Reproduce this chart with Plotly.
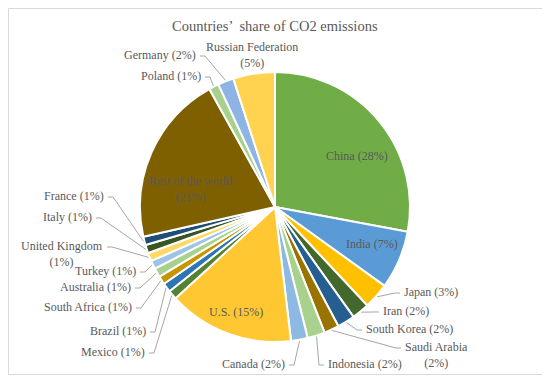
import math
import plotly.graph_objects as go

# ---------------- data ----------------
countries = ["China", "India", "Japan", "Iran", "South Korea", "Saudi Arabia",
             "Indonesia", "Canada", "U.S.", "Mexico", "Brazil", "South Africa",
             "Australia", "Turkey", "United Kingdom", "Italy", "France",
             "Rest of the world", "Poland", "Germany", "Russian Federation"]
shares = [28.0, 7.0, 3.1, 2.1, 2.1, 1.8, 2.1, 2.0, 15.1, 1.1, 1.1, 1.0,
          1.1, 1.0, 1.0, 1.0, 1.0, 20.5, 1.2, 1.9, 5.0]
share_labels = ["28%", "7%", "3%", "2%", "2%", "2%", "2%", "2%", "15%", "1%",
                "1%", "1%", "1%", "1%", "1%", "1%", "1%", "21%", "1%", "2%", "5%"]
colors = ["#70AD47", "#5B9BD5", "#FFC000", "#43682B", "#255E91", "#997300",
          "#A9D18E", "#8EB9E3", "#FFC832", "#548235", "#2E75B6", "#C89500",
          "#A9D18E", "#9DC3E6", "#FFD966", "#375623", "#1F4E79", "#7F6000",
          "#A9D18E", "#8EB4E3", "#FFD34F"]
title_text = "Countries\u2019  share of CO2 emissions"

# ---------------- layout constants ----------------
OFF = 8                      # page body margin of the browser
W, H = 550 - OFF, 379 - OFF  # figure size in pixels
CX, CY, R = 275, 207, 135    # page pixel coordinates of the pie
FONT = "Liberation Serif, Times New Roman, serif"
TXT = "#595959"
LINE = "#A6A6A6"

# label placement (page pixels): x, y, anchor side, whether a leader line is drawn
label_layout = {
    "China": (357, 156, "center", False),
    "India": (372, 244, "center", False),
    "U.S.": (236, 312, "center", False),
    "Rest of the world": (190, 189, "center", False),
    "Russian Federation": (252, 55.5, "center", False),
    "Germany": (198, 55, "right", True),
    "Poland": (203, 76, "right", True),
    "France": (106, 196, "right", True),
    "Italy": (94, 217, "right", True),
    "United Kingdom": (105, 253.5, "right", True),
    "Turkey": (138, 271, "right", True),
    "Australia": (133, 287, "right", True),
    "South Africa": (134, 307, "right", True),
    "Brazil": (148, 331, "right", True),
    "Mexico": (147, 352, "right", True),
    "Canada": (287, 364, "right", True),
    "Indonesia": (326, 364, "left", True),
    "Saudi Arabia": (403, 355, "left", True),
    "South Korea": (364, 329, "left", True),
    "Iran": (381, 311, "left", True),
    "Japan": (402, 292, "left", True),
}
line_y_override = {"United Kingdom": 247, "Saudi Arabia": 348}
two_line = {"Russian Federation", "United Kingdom", "Saudi Arabia", "Rest of the world"}


def px(x, y):
    """page pixel -> paper fraction"""
    return (x - OFF) / W, 1 - (y - OFF) / H


fig = go.Figure()
x0, y1 = px(CX - R, CY - R)
x1, y0 = px(CX + R, CY + R)
fig.add_trace(go.Pie(
    labels=countries, values=shares, sort=False, direction="clockwise",
    rotation=0, textinfo="none", hoverinfo="label+percent",
    marker=dict(colors=colors, line=dict(color="white", width=2)),
    domain=dict(x=[x0, x1], y=[y0, y1]), showlegend=False,
))

annotations = []
shapes = []
total = sum(shares)
cum = 0.0
for name, s, lab in zip(countries, shares, share_labels):
    mid = (cum + s / 2) / total * 2 * math.pi
    cum += s
    lx, ly, side, has_line = label_layout[name]
    sep = "<br>" if name in two_line else " "
    text = f"{name}{sep}({lab})"
    ax_, ay_ = px(lx, ly)
    annotations.append(dict(
        x=ax_, y=ay_, xref="paper", yref="paper", text=text, showarrow=False,
        xanchor=side, yanchor="middle", align="center",
        font=dict(family=FONT, size=12, color=TXT),
    ))
    if has_line:
        yy = line_y_override.get(name, ly + 1)
        ex = CX + (R + 1) * math.sin(mid)
        ey = CY - (R + 1) * math.cos(mid)
        d = 2 if side == "right" else -2
        sx = lx + d
        bx = sx + (5 if side == "right" else -5)
        pts = [px(sx, yy), px(bx, yy), px(ex, ey)]
        path = "M {} {} L {} {} L {} {}".format(*[c for p in pts for c in p])
        shapes.append(dict(type="path", path=path, xref="paper", yref="paper",
                           line=dict(color=LINE, width=1)))

# outer chart border
bx0, by1 = px(8.5, 8.5)
bx1, by0 = px(543.5, 374.5)
shapes.append(dict(type="rect", xref="paper", yref="paper", x0=bx0, x1=bx1,
                   y0=by0, y1=by1, line=dict(color="#D9D9D9", width=1)))

tx, ty = px(275, 26)
annotations.append(dict(x=tx, y=ty, xref="paper", yref="paper", text=title_text,
                        showarrow=False, xanchor="center", yanchor="middle",
                        font=dict(family=FONT, size=14.5, color=TXT)))

fig.update_layout(
    width=W, height=H, margin=dict(l=0, r=0, t=0, b=0),
    paper_bgcolor="white", plot_bgcolor="white",
    annotations=annotations, shapes=shapes,
)
fig.write_html("out.html")
